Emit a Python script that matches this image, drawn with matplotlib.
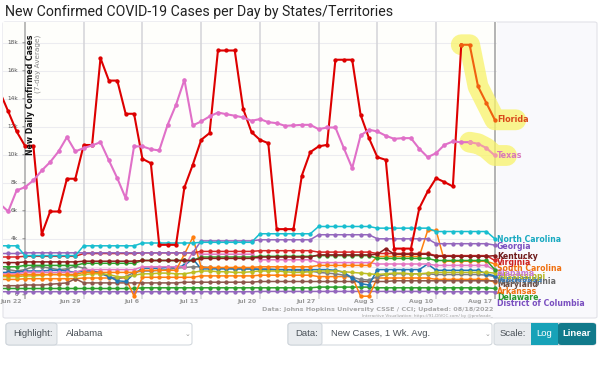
import numpy as np
import pandas as pd
import matplotlib
matplotlib.use('Agg')
import matplotlib.pyplot as plt
from matplotlib.patches import FancyBboxPatch, Rectangle

# daily 7-day averages, Jun 19 .. Aug 17 2022 (thousands of cases)
dates = pd.date_range('2022-06-19', '2022-08-17')

florida = [14.5, 13.1, 11.67, 10.64, 10.64, 4.33, 5.95, 5.95, 8.29, 8.29, 10.7, 10.7,
           16.9, 15.3, 15.3, 12.93, 12.93, 9.71, 9.4, 3.57, 3.57, 3.57, 7.67, 9.29, 11.07, 11.55,
           17.45, 17.45, 17.45, 13.29, 11.62, 11.07, 10.83, 4.69, 4.69, 4.69, 8.52, 10.19, 10.6,
           10.71, 16.79, 16.79, 16.79,
           12.86, 11.19, 9.83, 9.64, 3.3, 3.3, 3.3, 6.19, 7.38, 8.33, 8.05, 7.74, 17.86, 17.86,
           14.88, 13.69, 12.5]
texas = [6.5, 5.95, 7.45, 7.69, 8.17, 8.88, 9.48, 10.24, 11.26, 10.24, 10.48, 10.67,
         10.9, 9.6, 8.33, 6.9, 10.6, 10.6, 10.4, 10.31, 12.14, 13.57, 15.36, 12.1, 12.38, 12.74,
         13.02, 12.9, 12.79, 12.67, 12.43, 12.55, 12.33, 12.26, 12.07, 12.1, 12.14, 12.14, 11.83,
         11.95, 11.95, 10.48, 9.05,
         11.38, 11.79, 11.67, 11.36, 11.14, 11.19, 11.19, 10.43, 9.83, 10.12, 10.71, 10.95, 10.9,
         10.9, 10.79, 10.48, 9.95]
north_carolina = [3.5, 3.5, 3.5, 2.8, 2.8, 2.8, 2.8, 2.8, 2.8, 2.8, 3.5, 3.5, 3.5, 3.5, 3.5, 3.5, 3.5,
                  3.7, 3.7, 3.7, 3.7, 3.7, 3.7, 3.7, 3.75, 3.75, 3.75, 3.75, 3.75, 3.75, 3.75,
                  4.36, 4.36, 4.36, 4.36, 4.36, 4.36, 4.36, 4.88, 4.88, 4.88, 4.88, 4.88, 4.88, 4.88,
                  4.76, 4.76, 4.76, 4.76, 4.76, 4.76, 4.76, 4.52, 4.52, 4.52, 4.52, 4.52, 4.52, 4.52, 4.0]
georgia = [2.95, 2.95, 2.95, 3.0, 3.0, 3.0, 3.0, 3.0, 3.0, 3.0, 3.0, 3.0, 3.0, 3.0, 3.0, 3.0, 3.0,
           3.0, 3.0, 3.0, 3.0, 3.0, 3.0, 3.0, 3.85, 3.85, 3.85, 3.85, 3.85, 3.85, 3.85,
           3.93, 3.93, 3.93, 3.93, 3.93, 3.93, 3.93, 4.29, 4.29, 4.29, 4.29, 4.29, 4.29, 4.29,
           4.0, 4.0, 4.0, 4.0, 4.0, 4.0, 4.0, 3.65, 3.65, 3.65, 3.65, 3.65, 3.65, 3.65, 3.55]
kentucky = [2.3, 2.3, 2.3, 2.35, 2.35, 2.35, 2.35, 2.35, 2.35, 2.35, 2.4, 2.4, 2.4, 2.4, 2.4, 2.4, 2.4,
            2.45, 2.45, 2.45, 2.45, 2.45, 2.45, 2.45, 2.6, 2.6, 2.6, 2.6, 2.6, 2.6, 2.6,
            2.7, 2.7, 2.7, 2.7, 2.7, 2.7, 2.7, 2.85, 2.85, 2.85, 2.85, 2.85, 2.85, 2.85,
            2.9, 3.3, 2.9, 2.9, 2.9, 2.9, 2.9, 2.75, 2.75, 2.75, 2.75, 2.75, 2.75, 2.75, 2.8]
virginia = [2.7, 2.7, 2.7, 2.75, 2.75, 2.75, 2.75, 2.75, 2.75, 2.75, 2.95, 2.95, 2.95, 2.95, 2.95, 2.95,
            2.95, 3.0, 3.0, 3.0, 3.0, 3.0, 3.0, 3.0, 3.1, 3.1, 3.1, 3.1, 3.1, 3.1, 3.1,
            3.15, 3.15, 3.15, 3.15, 3.15, 3.15, 3.15, 3.05, 3.05, 3.05, 3.05, 3.05, 3.05, 3.05,
            2.95, 2.95, 2.95, 2.95, 2.95, 2.95, 2.95, 2.8, 2.8, 2.8, 2.8, 2.8, 2.8, 2.8, 2.45]
louisiana = [2.0, 2.0, 2.0, 2.1, 2.1, 2.1, 2.1, 2.1, 2.1, 2.1, 2.25, 2.25, 2.25, 2.25, 2.25, 2.25, 2.25,
             2.45, 2.45, 2.45, 2.45, 2.45, 2.45, 2.45, 2.7, 2.7, 2.7, 2.7, 2.7, 2.7, 2.7,
             2.75, 2.75, 2.75, 2.75, 2.75, 2.75, 2.75, 2.8, 2.8, 2.8, 2.8, 2.8, 2.8, 2.8,
             2.6, 2.6, 2.6, 2.6, 2.6, 2.6, 2.6, 2.45, 2.45, 2.45, 2.45, 2.45, 2.45, 2.45, 1.8]
south_carolina = [1.4, 1.4, 1.4, 1.45, 1.45, 1.45, 1.45, 1.45, 1.45, 1.45, 1.6, 1.6, 1.6, 1.6, 1.6, 1.6,
                  1.6, 1.75, 1.75, 1.75, 1.75, 1.75, 2.9, 4.1, 1.95, 1.95, 1.95, 1.95, 1.95, 1.95, 1.95,
                  2.0, 2.0, 2.0, 2.0, 2.0, 2.0, 2.0, 2.1, 2.1, 2.1, 2.1, 2.1, 2.1, 2.1,
                  2.74, 2.74, 2.74, 2.74, 2.74, 2.74, 4.6, 4.6, 2.4, 2.4, 2.4, 2.4, 2.4, 2.4, 2.2]
alabama = [1.5, 1.5, 1.5, 1.6, 1.6, 1.6, 1.6, 1.6, 1.6, 1.6, 1.8, 1.8, 1.8, 1.8, 1.8, 1.8, 1.8,
           2.0, 2.0, 2.0, 2.0, 2.0, 2.0, 3.05, 2.9, 2.9, 2.9, 2.9, 2.9, 2.9, 2.9,
           2.5, 2.5, 2.5, 2.5, 2.5, 2.5, 2.5, 2.3, 2.3, 2.3, 2.3, 2.3, 2.3, 2.3,
           2.2, 2.2, 2.2, 2.2, 2.2, 2.2, 2.2, 2.1, 2.1, 2.1, 2.1, 2.1, 2.1, 2.1, 1.75]
mississippi = [1.3, 1.3, 1.3, 1.35, 1.35, 1.4, 1.45, 1.45, 1.4, 1.35, 1.45, 1.5, 1.5, 1.45, 1.3, 1.25,
               1.4, 1.5, 1.5, 1.55, 1.55, 1.5, 1.5, 1.6, 1.7, 1.7, 1.65, 1.65, 1.6, 1.6, 1.65,
               1.7, 1.7, 1.7, 1.65, 1.6, 1.6, 1.65, 1.7, 1.7, 1.7, 1.65, 1.6, 1.55, 1.5,
               1.45, 1.5, 1.55, 1.55, 1.5, 1.5, 1.55, 1.6, 1.6, 1.6, 1.6, 1.6, 1.6, 1.6, 1.55]
tennessee = [1.6, 1.6, 1.6, 1.7, 1.7, 1.7, 1.75, 1.75, 1.7, 1.6, 1.7, 1.7, 1.6, 1.3, 1.0, 0.95,
             1.5, 1.9, 1.9, 1.9, 1.95, 1.95, 2.1, 2.57, 1.85, 1.85, 1.85, 1.85, 1.85, 1.85, 1.85,
             1.8, 1.8, 1.8, 1.8, 1.8, 1.8, 1.8, 1.8, 1.8, 1.75, 1.6, 1.2, 0.8, 0.7,
             1.8, 1.8, 1.8, 1.8, 1.8, 1.8, 2.2, 1.75, 1.75, 1.75, 1.75, 1.75, 1.75, 1.5, 1.35]
west_virginia = [1.9, 1.8, 1.7, 1.8, 2.0, 2.0, 1.9, 1.8, 1.85, 2.05, 1.9, 1.7, 1.5, 1.3, 1.15, 1.3,
                 1.6, 1.7, 1.7, 1.75, 1.8, 1.9, 1.95, 2.0, 2.0, 1.95, 1.9, 1.9, 1.85, 1.85, 1.85,
                 1.85, 1.85, 1.8, 1.8, 1.75, 1.7, 1.7, 1.6, 1.55, 1.5, 1.4, 1.25, 1.1, 1.05,
                 1.3, 1.45, 1.5, 1.5, 1.5, 1.5, 1.5, 1.45, 1.45, 1.45, 1.45, 1.45, 1.45, 1.4, 1.3]
maryland = [0.65, 0.65, 0.65, 0.7, 0.7, 0.7, 0.75, 0.8, 0.85, 1.15, 0.85, 0.85, 0.85, 0.85, 0.85, 0.85,
            0.85, 0.85, 0.85, 0.85, 0.85, 0.85, 0.9, 0.9, 0.9, 0.9, 0.9, 0.9, 0.9, 0.9, 0.9,
            0.95, 0.95, 0.95, 0.95, 0.95, 0.95, 0.95, 0.95, 0.95, 0.95, 0.95, 0.95, 0.95, 0.95,
            0.95, 0.95, 1.0, 1.0, 1.0, 1.0, 1.0, 1.0, 1.0, 1.0, 1.0, 1.0, 1.0, 1.0, 1.0]
arkansas = [1.1, 1.1, 1.1, 1.15, 1.15, 1.15, 1.15, 1.15, 1.15, 1.15, 1.2, 1.2, 1.2, 1.2, 1.2, 1.2,
            -0.1, 1.25, 1.25, 1.25, 1.25, 1.25, 1.25, 1.25, 1.35, 1.35, 1.35, 1.35, 1.35, 1.35, 1.35,
            1.4, 1.4, 1.4, 1.4, 1.4, 1.4, 1.4, 1.3, 1.3, 1.3, 1.3, 1.3, -0.1, -0.1,
            1.2, 1.2, 1.2, 1.2, 1.2, 1.2, 1.2, 1.1, 1.1, 1.1, 1.1, 1.1, 1.1, 1.1, 0.9]
delaware = [0.45, 0.45, 0.45, 0.45, 0.45, 0.45, 0.45, 0.45, 0.45, 0.45, 0.45, 0.45, 0.45, 0.45, 0.45,
            0.45, 0.45, 0.5, 0.5, 0.5, 0.5, 0.5, 0.5, 0.5, 0.5, 0.5, 0.5, 0.5, 0.5, 0.5, 0.5,
            0.5, 0.5, 0.5, 0.5, 0.5, 0.5, 0.5, 0.55, 0.55, 0.55, 0.55, 0.55, 0.55, 0.55,
            0.5, 0.5, 0.5, 0.5, 0.5, 0.5, 0.5, 0.5, 0.5, 0.5, 0.5, 0.5, 0.5, 0.5, 0.45]
dc = [0.22, 0.22, 0.22, 0.22, 0.22, 0.22, 0.22, 0.22, 0.22, 0.22, 0.22, 0.22, 0.22, 0.22, 0.22,
      0.22, 0.22, 0.22, 0.22, 0.22, 0.22, 0.22, 0.22, 0.22, 0.22, 0.22, 0.22, 0.22, 0.22, 0.22, 0.22,
      0.24, 0.24, 0.24, 0.24, 0.24, 0.24, 0.24, 0.24, 0.24, 0.24, 0.24, 0.24, 0.24, 0.24,
      0.24, 0.24, 0.24, 0.24, 0.24, 0.24, 0.24, 0.22, 0.22, 0.22, 0.22, 0.22, 0.22, 0.22, 0.2]

# (name, values, line colour, label colour, label y in px from top or None)
states = [
    ('District of Columbia', dc, '#9467bd', '#7a4fc0', 303),
    ('Delaware', delaware, '#2ca02c', '#2a9a2a', 297),
    ('Arkansas', arkansas, '#ff7f0e', '#f07010', 291),
    ('Maryland', maryland, '#8c564b', '#6b4a40', 284.5),
    ('West Virginia', west_virginia, '#7f7f7f', '#6a6a6a', 282),
    ('Tennessee', tennessee, '#1f77b4', '#3a80c0', 279),
    ('Mississippi', mississippi, '#bcbd22', '#b5b520', 276.5),
    ('Alabama', alabama, '#e377c2', '#c77ad6', 273.5),
    ('South Carolina', south_carolina, '#ff7f0e', '#f07010', 268.5),
    ('Louisiana', louisiana, '#2ca02c', None, None),
    ('Virginia', virginia, '#d62728', '#cc1f1f', 262.5),
    ('Kentucky', kentucky, '#8b1c1c', '#6e1a1a', 256.5),
    ('Georgia', georgia, '#9467bd', '#7a4fc0', 246.5),
    ('North Carolina', north_carolina, '#17becf', '#17a9c0', 240),
]

W, H = 600, 386
fig = plt.figure(figsize=(6, 3.86), dpi=100)
fig.patch.set_facecolor('white')

def fx(px):
    return px / W

def fy(py):
    return 1 - py / H

# chart container
fig.patches.append(FancyBboxPatch((fx(3), fy(318)), fx(594), 296 / H,
                                  boxstyle='round,pad=0,rounding_size=0.004',
                                  transform=fig.transFigure, facecolor='#f9f9fc',
                                  edgecolor='#e2e2e8', linewidth=0.8, zorder=-5))

fig.text(fx(5), fy(12), 'New Confirmed COVID-19 Cases per Day by States/Territories',
         family='Roboto', fontsize=10.2, color='#222222', va='center', ha='left')

ax = fig.add_axes([fx(3), fy(299), 493.5 / W, 277.2 / H], zorder=2)
ax.set_facecolor('#fefefb')
days = np.array((dates - pd.Timestamp('2022-06-22')).days)
ax.set_xlim(-2.62, 56.2)
ax.set_ylim(-0.3, 19.5)
for s in ax.spines.values():
    s.set_visible(False)
ax.set_xticks([])
ax.set_yticks([])

for v in range(2, 20, 2):
    ax.axhline(v, color='#ececf0', lw=0.8, zorder=0)
ticks = list(range(0, 57, 7))
tick_names = ['Jun 22', 'Jun 29', 'Jul 6', 'Jul 13', 'Jul 20', 'Jul 27', 'Aug 3', 'Aug 10', 'Aug 17']
for t in ticks[1:-1]:
    ax.axvline(t, color='#d4d4d8', lw=1.1, zorder=0)
ax.axvline(0, color='#a8a8a8', lw=1.1, zorder=0)
ax.axvline(56, color='#a0a0a0', lw=1.1, zorder=0)

for t, name in zip(ticks, tick_names):
    ax.annotate(name, xy=(t, 0), xycoords=('data', 'axes fraction'), xytext=(-3, -0.5),
                textcoords='offset pixels', ha='right', va='top', fontsize=4.4,
                color='#9a9a9a', fontweight='bold', family='DejaVu Sans')

for v in range(0, 20, 2):
    if v == 2:
        continue
    lab = '0' if v == 0 else '%dk' % v
    ax.annotate(lab, xy=(0, v), xycoords=('data', 'data'), xytext=(-7, 0),
                textcoords='offset pixels', ha='right', va='center', fontsize=4.2,
                color='#555555', family='DejaVu Sans')
    ax.annotate('', xy=(0, v), xycoords='data', xytext=(-5, 0), textcoords='offset pixels',
                arrowprops=dict(arrowstyle='-', color='#777777', lw=0.6))

ax.text(0.6, 18.6, 'New Daily Confirmed Cases', rotation=90, ha='center', va='top',
        fontsize=5.6, fontweight='bold', color='#111111', family='DejaVu Sans', zorder=6)
ax.text(1.5, 18.6, '(7-day Average)', rotation=90, ha='center', va='top',
        fontsize=5.2, color='#888888', family='DejaVu Sans', zorder=6)

mk = dict(marker='o', markersize=2.1, lw=1.1)
for name, vals, col, lcol, ly in states:
    ax.plot(days, vals, color=col, zorder=3, **mk)
    if ly is not None:
        ax.annotate(name, xy=(1, 0), xycoords='axes fraction', xytext=(497, H - ly),
                    textcoords='figure pixels', ha='left', va='center', fontsize=5.6,
                    fontweight='bold', color=lcol, family='DejaVu Sans', annotation_clip=False)

# highlighter marks over the last days of Florida and Texas
hl = '#f8f36a'
ax.plot(list(days[55:]) + [58.5], florida[55:] + [12.5], color=hl, lw=15, alpha=0.75,
        solid_capstyle='round', solid_joinstyle='round', zorder=2, clip_on=False)
ax.plot(list(days[56:]) + [57.4], texas[56:] + [9.95], color=hl, lw=15, alpha=0.75,
        solid_capstyle='round', solid_joinstyle='round', zorder=2, clip_on=False)

ax.plot(days[:56], florida[:56], color='#dd0000', zorder=4, marker='o', markersize=2.1, lw=1.5)
ax.plot(days[55:], florida[55:], color='#f06010', zorder=4, marker='o', markersize=2.1, lw=1.5,
        clip_on=False)
ax.plot(days[:57], texas[:57], color='#e070c8', zorder=4, marker='o', markersize=2.3, lw=1.5)
ax.plot(days[56:], texas[56:], color='#f09aa8', zorder=4, marker='o', markersize=2.3, lw=1.5,
        clip_on=False)
ax.annotate('Florida', xy=(1, 0), xycoords='axes fraction', xytext=(497, H - 120),
            textcoords='figure pixels', ha='left', va='center', fontsize=5.8, fontweight='bold',
            color='#d9481a', family='DejaVu Sans', annotation_clip=False)
ax.annotate('Texas', xy=(1, 0), xycoords='axes fraction', xytext=(497, H - 155.5),
            textcoords='figure pixels', ha='left', va='center', fontsize=5.8, fontweight='bold',
            color='#d878b8', family='DejaVu Sans', annotation_clip=False)

fig.text(fx(493), fy(309), 'Data: Johns Hopkins University CSSE / CCI; Updated: 08/18/2022',
         ha='right', va='center', fontsize=4.6, fontweight='bold', color='#a8a8a8',
         family='DejaVu Sans')
fig.text(fx(493), fy(316.5), 'Interactive Visualization: https://91-DIVOC.com/ by @profwade_',
         ha='right', va='center', fontsize=3.0, color='#a0a0a0', family='DejaVu Sans')

# control row under the chart
def box(x0, x1, face, edge='#ced4da', y0=323, y1=345):
    fig.patches.append(FancyBboxPatch((fx(x0), fy(y1)), fx(x1 - x0), (y1 - y0) / H,
                                      boxstyle='round,pad=0,rounding_size=0.006',
                                      transform=fig.transFigure, facecolor=face,
                                      edgecolor=edge, linewidth=0.7))

box(6, 192, 'white')
box(6, 57, '#e9ecef')
fig.text(fx(13), fy(334), 'Highlight:', fontsize=6.8, color='#495057', va='center',
         family='Liberation Sans')
fig.text(fx(66), fy(334), 'Alabama', fontsize=6.8, color='#495057', va='center',
         family='Liberation Sans')
fig.text(fx(187), fy(334), '\u2304', fontsize=5, color='#999999', va='center', ha='center',
         family='DejaVu Sans')
box(288, 492, 'white')
box(288, 322, '#e9ecef')
fig.text(fx(295), fy(334), 'Data:', fontsize=6.8, color='#495057', va='center',
         family='Liberation Sans')
fig.text(fx(331), fy(334), 'New Cases, 1 Wk. Avg.', fontsize=6.8, color='#495057', va='center',
         family='Liberation Sans')
fig.text(fx(487), fy(334), '\u2304', fontsize=5, color='#999999', va='center', ha='center',
         family='DejaVu Sans')
box(494, 596, '#e9ecef')
fig.patches.append(Rectangle((fx(531), fy(345)), fx(27), 22 / H, transform=fig.transFigure,
                             facecolor='#17a2b8', edgecolor='none'))
fig.patches.append(FancyBboxPatch((fx(558), fy(345)), fx(38), 22 / H,
                                  boxstyle='round,pad=0,rounding_size=0.006',
                                  transform=fig.transFigure, facecolor='#117a8b',
                                  edgecolor='none'))
fig.text(fx(500), fy(334), 'Scale:', fontsize=6.8, color='#495057', va='center',
         family='Liberation Sans')
fig.text(fx(544.5), fy(334), 'Log', fontsize=6.8, color='white', va='center', ha='center',
         family='Liberation Sans')
fig.text(fx(577), fy(334), 'Linear', fontsize=6.8, color='white', va='center', ha='center',
         family='Liberation Sans', fontweight='bold')

fig.savefig('out.png', dpi=100)
